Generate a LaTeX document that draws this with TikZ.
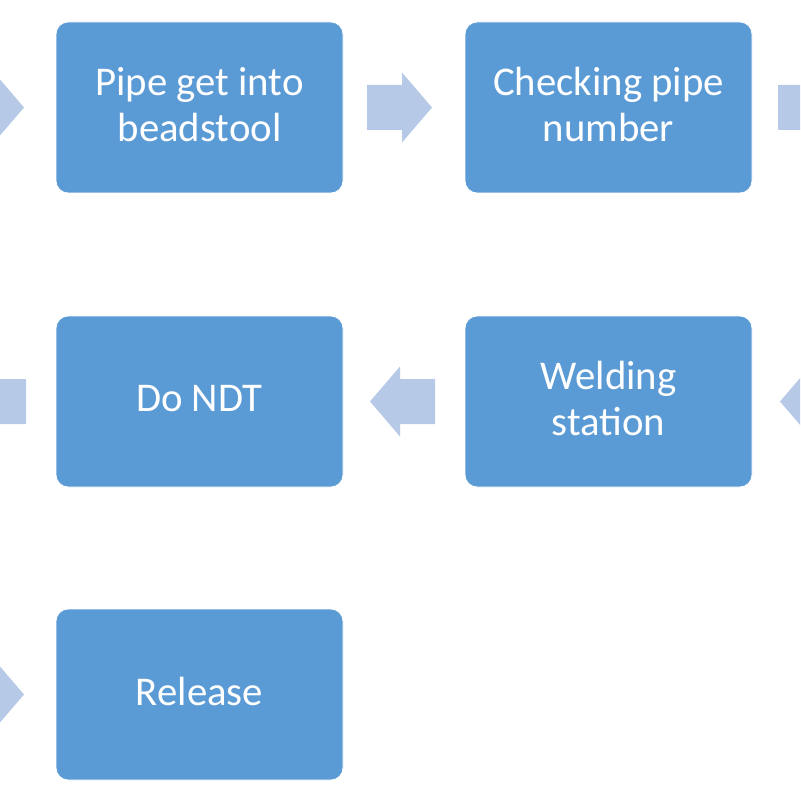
\documentclass[tikz,border=0pt]{standalone}
\usepackage{fontspec}
\setmainfont{Carlito}
\definecolor{boxblue}{RGB}{91,155,213}
\definecolor{arrblue}{RGB}{182,202,232}
\begin{document}
\begin{tikzpicture}[x=0.025cm,y=-0.025cm,
  stepbox/.style={draw=white,line width=0.6pt,fill=boxblue,rounded corners=0.3cm,
    minimum width=287*0.025cm,minimum height=171*0.025cm,inner sep=0pt,
    text=white,align=center,font=\fontsize{29}{33}\selectfont},
  blockarrow/.style={fill=arrblue,draw=none}]
\useasboundingbox (0,0) rectangle (800,800);
\clip (0,0) rectangle (800,800);
% boxes
\node[stepbox] (b1) at (199.5,107.5) {};
\node[stepbox] (b2) at (608.5,107.5) {};
\node[stepbox] (b3) at (608.5,401.5) {};
\node[stepbox] (b4) at (199.5,401.5) {};
\node[stepbox] (b5) at (199.5,694.5) {};
\foreach \n/\t in {b1/{Pipe get into\\beadstool}, b2/{Checking pipe\\number}, b3/{Welding\\station}, b4/{Do NDT}, b5/{Release}}{
  \node[text=white,align=center,font=\fontsize{29}{33}\selectfont] (t\n) at ([yshift=3*0.025cm]\n.center) {\t};
}
% right-pointing arrows: tail x, centre y
\foreach \tx/\cy in {-41/107.5, 367/107.5, 778/107.5, -41/694.5}{
  \fill[blockarrow] (\tx,\cy-22.5) -- (\tx+35,\cy-22.5) -- (\tx+35,\cy-35) -- (\tx+65,\cy)
    -- (\tx+35,\cy+35) -- (\tx+35,\cy+22.5) -- (\tx,\cy+22.5) -- cycle;
}
% left-pointing arrows: tail x, centre y
\foreach \tx/\cy in {435/401.5, 26/401.5, 845/401.5}{
  \fill[blockarrow] (\tx,\cy-22.5) -- (\tx-35,\cy-22.5) -- (\tx-35,\cy-35) -- (\tx-65,\cy)
    -- (\tx-35,\cy+35) -- (\tx-35,\cy+22.5) -- (\tx,\cy+22.5) -- cycle;
}
\end{tikzpicture}
\end{document}
